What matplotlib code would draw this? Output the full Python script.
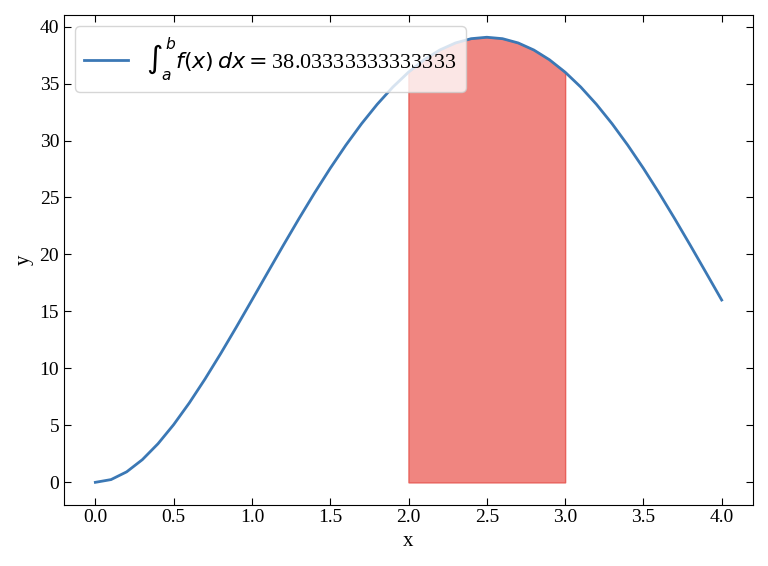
import matplotlib
matplotlib.use("Agg")
import matplotlib.pyplot as plt

plt.rcParams["font.family"] = ["Liberation Serif", "DejaVu Serif"]
plt.rcParams["mathtext.fontset"] = "dejavusans"

# curve samples
x_vals = [round(i * 0.1, 1) for i in range(41)]
y_vals = [0, 0.2401, 0.9216, 1.9881, 3.3856, 5.0625, 6.9696, 9.0601, 11.2896, 13.6161,
          16, 18.4041, 20.7936, 23.1361, 25.4016, 27.5625, 29.5936, 31.4721, 33.1776, 34.6921,
          36, 37.0881, 37.9456, 38.5641, 38.9376, 39.0625, 38.9376, 38.5641, 37.9456, 37.0881,
          36, 34.6921, 33.1776, 31.4721, 29.5936, 27.5625, 25.4016, 23.1361, 20.7936, 18.4041,
          16]
a, b = 2.0, 3.0
integral_value = 38.03333333333333

fill_x = [x for x in x_vals if a <= x <= b]
fill_y = [y for x, y in zip(x_vals, y_vals) if a <= x <= b]

fig, ax = plt.subplots(figsize=(7.68, 5.66), dpi=100)
ax.plot(x_vals, y_vals, color="#3b78b5", lw=2,
        label=r"$\int_a^b f(x)\,dx = $" + str(integral_value))
ax.fill_between(fill_x, fill_y, color="#f08580", edgecolor="#e8605a", lw=1)

ax.set_xlabel("x", fontsize=15)
ax.set_ylabel("y", fontsize=15)
ax.set_xticks([0, 0.5, 1, 1.5, 2, 2.5, 3, 3.5, 4])
ax.set_yticks(range(0, 41, 5))
ax.tick_params(direction="in", top=True, right=True, labelsize=14, length=5)
ax.legend(loc="upper left", fontsize=16, handlelength=2)

fig.tight_layout()
fig.savefig("out.png")
